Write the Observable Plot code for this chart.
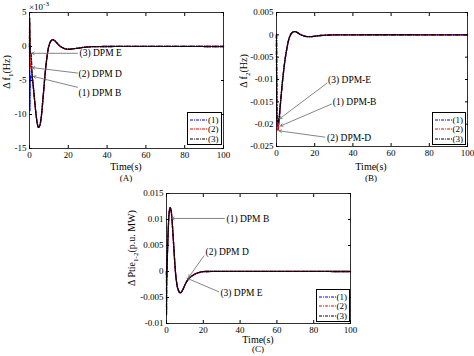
<!DOCTYPE html>
<html><head><meta charset="utf-8">
<script src="https://cdn.jsdelivr.net/npm/d3@7"></script>
<script src="https://cdn.jsdelivr.net/npm/@observablehq/plot@0.6"></script>
<style>
body{margin:0;background:#fff;}
#wrap{position:relative;width:474px;height:356px;font-family:"Liberation Serif",serif;color:#000;overflow:hidden;}
.abs{position:absolute;white-space:nowrap;}
.ylab{position:absolute;white-space:nowrap;font-size:10px;transform:translate(-50%,-50%) rotate(-90deg);}
.xlab{position:absolute;white-space:nowrap;font-size:10px;transform:translate(-50%,-50%);}
.cap{position:absolute;white-space:nowrap;font-size:9px;transform:translate(-50%,-50%);}
.leg{position:absolute;border:1px solid #000;background:#fff;box-sizing:border-box;font-size:9px;padding:1px 2px;}
.leg div{display:flex;align-items:center;height:9.5px;}
sub,sup{font-size:7px;}
</style></head><body><div id="wrap"></div>
<script>
const seriesNames = ["(1)", "(2)", "(3)"];
const seriesColors = ["#0000ff", "#ff0000", "#000000"];
const xTicks = [0, 20, 40, 60, 80, 100];

// Panel A: delta f1 (x 1e-3 Hz)
const timeA = [0, 0.1, 0.2, 0.35, 0.5, 0.7, 1, 1.5, 2, 2.5, 3, 3.5, 4, 4.6, 5.2, 6, 7, 8, 9, 10, 11, 12, 13, 14, 16, 18, 20, 22, 25, 28, 32, 40, 100];
const fA1 = [0, -3, -9.5, -6, -4.5, -4.3, -4.4, -4.8, -6.0, -7.5, -9.0, -10.3, -11.3, -11.9, -11.7, -10.5, -7.5, -4.2, -1.6, 0.1, 0.8, 1.0, 0.85, 0.55, 0.0, -0.3, -0.4, -0.35, -0.25, -0.12, -0.03, 0, 0];
const fA2 = [0, 3.5, 1, -2, -3, -3.1, -3.5, -4.8, -6.0, -7.5, -9.0, -10.3, -11.3, -11.9, -11.7, -10.5, -7.5, -4.2, -1.6, 0.1, 0.8, 1.0, 0.85, 0.55, 0.0, -0.3, -0.4, -0.35, -0.25, -0.12, -0.03, 0, 0];
const fA3 = [0, 4.2, 2.5, 0, -1, -1, -2, -4.6, -6.0, -7.5, -9.0, -10.3, -11.3, -11.9, -11.7, -10.5, -7.5, -4.2, -1.6, 0.1, 0.8, 1.0, 0.85, 0.55, 0.0, -0.3, -0.4, -0.35, -0.25, -0.12, -0.03, 0, 0];
const yTicksA = [5, 0, -5, -10, -15];
const annTextA = ["(3) DPM E", "(2) DPM D", "(1) DPM B"];
const annLabelXA = [25.8, 25.3, 25.3];
const annLabelYA = [-1.0, -4.1, -6.9];
const annFromXA = [24.7, 24.7, 24.7];
const annFromYA = [-1.0, -3.9, -6.0];
const annToXA = [1.2, 1.5, 2.0];
const annToYA = [-1.0, -3.1, -4.4];

// Panel B: delta f2 (Hz)
const timeB = [0, 0.1, 0.25, 0.5, 0.8, 1.2, 1.6, 2, 2.5, 3, 3.5, 4, 4.5, 5, 6, 7, 8, 9, 10, 11, 12, 14, 16, 18, 20, 23, 27, 35, 100];
const fB1 = [0, -0.012, -0.019, -0.0205, -0.0207, -0.0198, -0.0178, -0.0158, -0.0133, -0.011, -0.009, -0.0071, -0.0055, -0.0041, -0.0018, -0.0003, 0.0004, 0.0007, 0.0007, 0.0005, 0.0002, -0.0002, -0.0004, -0.0004, -0.0003, -0.00015, -0.00005, 0, 0];
const fB2 = [0, -0.013, -0.020, -0.0213, -0.0214, -0.0201, -0.0179, -0.0158, -0.0133, -0.011, -0.009, -0.0071, -0.0055, -0.0041, -0.0018, -0.0003, 0.0004, 0.0007, 0.0007, 0.0005, 0.0002, -0.0002, -0.0004, -0.0004, -0.0003, -0.00015, -0.00005, 0, 0];
const fB3 = [0, -0.011, -0.0183, -0.0195, -0.0196, -0.019, -0.0176, -0.0157, -0.0133, -0.011, -0.009, -0.0071, -0.0055, -0.0041, -0.0018, -0.0003, 0.0004, 0.0007, 0.0007, 0.0005, 0.0002, -0.0002, -0.0004, -0.0004, -0.0003, -0.00015, -0.00005, 0, 0];
const yTicksB = [0.005, 0, -0.005, -0.01, -0.015, -0.02, -0.025];
const annTextB = ["(3) DPM-E", "(1) DPM-B", "(2) DPM-D"];
const annLabelXB = [27, 29.5, 26.5];
const annLabelYB = [-0.0101, -0.0150, -0.0230];
const annFromXB = [26.5, 28.8, 25.3];
const annFromYB = [-0.0108, -0.0155, -0.0229];
const annToXB = [1.6, 2.1, 1.4];
const annToYB = [-0.0188, -0.0204, -0.0215];

// Panel C: delta Ptie 1-2 (p.u. MW)
const timeC = [0, 0.05, 0.15, 0.3, 0.6, 1, 1.5, 2, 2.5, 3, 3.5, 4, 4.5, 5, 5.5, 6, 7, 7.5, 8, 9, 10, 11, 12, 14, 16, 18, 20, 22, 100];
const pC1 = [0, -0.001, 0, 0.0015, 0.0045, 0.0085, 0.0115, 0.0123, 0.0117, 0.0099, 0.0073, 0.0045, 0.0017, -0.0006, -0.0021, -0.0031, -0.0040, -0.0041, -0.0040, -0.0034, -0.0026, -0.0019, -0.0014, -0.0008, -0.0004, -0.00015, -0.00002, 0, 0];
const pC2 = [0, -0.002, -0.001, 0.001, 0.0045, 0.0085, 0.0115, 0.0123, 0.0117, 0.0099, 0.0073, 0.0045, 0.0017, -0.0006, -0.0021, -0.0031, -0.0040, -0.0041, -0.0040, -0.0034, -0.0026, -0.0019, -0.0014, -0.0008, -0.0004, -0.00015, -0.00002, 0, 0];
const pC3 = [0, -0.0083, -0.004, 0, 0.0044, 0.0085, 0.0115, 0.0123, 0.0117, 0.0099, 0.0073, 0.0045, 0.0017, -0.0006, -0.0021, -0.0031, -0.0040, -0.0041, -0.0040, -0.0034, -0.0026, -0.0019, -0.0014, -0.0008, -0.0004, -0.00015, -0.00002, 0, 0];
const yTicksC = [0.015, 0.01, 0.005, 0, -0.005, -0.01];
const annTextC = ["(1) DPM B", "(2) DPM D", "(3) DPM E"];
const annLabelXC = [32.6, 21.2, 29.3];
const annLabelYC = [0.0102, 0.0037, -0.0041];
const annFromXC = [31.5, 20.3, 28.4];
const annFromYC = [0.0102, 0.0030, -0.0039];
const annToXC = [2.9, 12.1, 11.2];
const annToYC = [0.0102, -0.0011, -0.0013];

const wrap = document.getElementById("wrap");

function rows(time, lists) {
  const out = [];
  lists.forEach((vals, k) => time.forEach((t, i) => out.push({t, v: vals[i], s: seriesNames[k]})));
  return out;
}
function anns(text, lx, ly, fx, fy, tx, ty) {
  return text.map((s, i) => ({s, lx: lx[i], ly: ly[i], fx: fx[i], fy: fy[i], tx: tx[i], ty: ty[i]}));
}

function panel(o) {
  const data = rows(o.time, o.lists);
  const ann = o.ann;
  const chart = Plot.plot({
    width: o.width, height: o.height,
    marginLeft: o.ml, marginRight: o.mr, marginTop: o.mt, marginBottom: o.mb,
    style: {fontFamily: "Liberation Serif, serif", fontSize: "9px", background: "transparent", color: "#000"},
    x: {domain: [0, 100]},
    y: {domain: o.yDomain},
    color: {domain: seriesNames, range: seriesColors},
    marks: [
      Plot.axisX({ticks: xTicks, tickSize: -3, tickPadding: 6, tickFormat: d => String(d), label: null}),
      Plot.axisY({ticks: o.yTicks, tickSize: -3, tickPadding: 6, tickFormat: d => String(d), label: null}),
      Plot.axisX({anchor: "top", ticks: xTicks, tickSize: -3, text: null, label: null}),
      Plot.axisY({anchor: "right", ticks: o.yTicks, tickSize: -3, text: null, label: null}),
      Plot.line(data, {x: "t", y: "v", z: "s", stroke: "s", strokeWidth: 1.3, strokeDasharray: "4,1.5,1,1.5", curve: "catmull-rom"}),
      Plot.arrow(ann, {x1: "fx", y1: "fy", x2: "tx", y2: "ty", stroke: "#666", strokeWidth: 0.8, headLength: 5}),
      Plot.text(ann, {x: "lx", y: "ly", text: "s", textAnchor: "start", lineAnchor: "middle", fontSize: 9.5, fill: "#000"}),
      Plot.frame({stroke: "#000", strokeWidth: 0.8})
    ]
  });
  chart.style.position = "absolute";
  chart.style.left = o.left + "px";
  chart.style.top = o.top + "px";
  wrap.appendChild(chart);
}

function addDiv(cls, html, x, y) {
  const d = document.createElement("div");
  d.className = cls;
  d.innerHTML = html;
  d.style.left = x + "px";
  d.style.top = y + "px";
  wrap.appendChild(d);
  return d;
}
function legend(x, y, w, h) {
  const d = document.createElement("div");
  d.className = "leg";
  Object.assign(d.style, {left: x + "px", top: y + "px", width: w + "px", height: h + "px"});
  seriesNames.forEach((n, i) => {
    const r = document.createElement("div");
    r.innerHTML = `<svg width="17" height="4" style="margin-right:1px"><line x1="0" y1="2" x2="17" y2="2" stroke="${seriesColors[i]}" stroke-width="1.2" stroke-dasharray="3,1,1,1"/></svg>${n}`;
    d.appendChild(r);
  });
  d.style.paddingTop = "2px";
  wrap.appendChild(d);
}

panel({time: timeA, lists: [fA1, fA2, fA3], yDomain: [-15, 5], yTicks: yTicksA,
  ann: anns(annTextA, annLabelXA, annLabelYA, annFromXA, annFromYA, annToXA, annToYA),
  left: 0, top: 0, width: 237, height: 162, ml: 29, mr: 14, mt: 12, mb: 14});
panel({time: timeB, lists: [fB1, fB2, fB3], yDomain: [-0.025, 0.005], yTicks: yTicksB,
  ann: anns(annTextB, annLabelXB, annLabelYB, annFromXB, annFromYB, annToXB, annToYB),
  left: 237, top: 0, width: 237, height: 162, ml: 39, mr: 7, mt: 12, mb: 16});
panel({time: timeC, lists: [pC1, pC2, pC3], yDomain: [-0.01, 0.015], yTicks: yTicksC,
  ann: anns(annTextC, annLabelXC, annLabelYC, annFromXC, annFromYC, annToXC, annToYC),
  left: 120, top: 180, width: 240, height: 155, ml: 46, mr: 10, mt: 13, mb: 12});

addDiv("abs", "&times;10<sup>-3</sup>", 29, 0).style.fontSize = "9px";
addDiv("ylab", "&Delta; f<sub>1</sub>(Hz)", 8, 72);
addDiv("ylab", "&Delta; f<sub>2</sub>(Hz)", 245, 71);
addDiv("ylab", "&Delta; Ptie<sub>1-2</sub>(p.u. MW)", 133, 248);
addDiv("xlab", "Time(s)", 126, 166);
addDiv("xlab", "Time(s)", 371, 166);
addDiv("xlab", "Time(s)", 258, 339);
addDiv("cap", "(A)", 126, 178);
addDiv("cap", "(B)", 371, 178);
addDiv("cap", "(C)", 258, 349);
legend(187, 112, 35, 33);
legend(432, 112, 34, 33);
legend(316, 289, 34, 33);
</script></body></html>
